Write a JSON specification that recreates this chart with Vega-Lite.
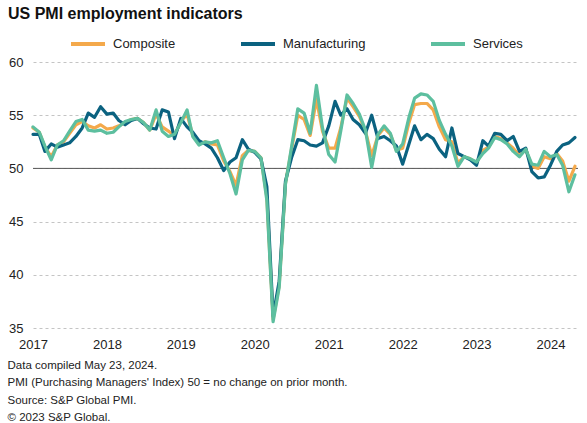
{
  "$schema": "https://vega.github.io/schema/vega-lite/v6.json",
  "width": 545,
  "height": 266,
  "autosize": {"type": "none"},
  "padding": {"left": 33, "top": 62, "right": 9, "bottom": 95},
  "background": "white",
  "config": {
    "view": {"stroke": null},
    "font": "Liberation Sans",
    "axis": {"labelColor": "#222", "labelFont": "Liberation Sans"},
    "legend": {"labelColor": "#222"}
  },
  "title": {
    "text": "US PMI employment indicators",
    "anchor": "start",
    "frame": "group",
    "dx": -25,
    "offset": 3,
    "fontSize": 16,
    "fontWeight": "bold",
    "color": "#111",
    "font": "Liberation Sans"
  },
  "layer": [
    {
      "data": {"values": [{"level": 50}]},
      "mark": {"type": "rule", "color": "#555", "strokeWidth": 1},
      "encoding": {"y": {"field": "level", "type": "quantitative"}}
    },
    {
      "data": {
        "values": [
          {"date": "2017-01-01", "Composite": 53.8, "Manufacturing": 53.2, "Services": 53.9},
          {"date": "2017-02-01", "Composite": 53.4, "Manufacturing": 53.2, "Services": 53.4},
          {"date": "2017-03-01", "Composite": 52.0, "Manufacturing": 51.6, "Services": 52.1},
          {"date": "2017-04-01", "Composite": 51.1, "Manufacturing": 52.3, "Services": 50.8},
          {"date": "2017-05-01", "Composite": 52.2, "Manufacturing": 52.0, "Services": 52.2},
          {"date": "2017-06-01", "Composite": 52.5, "Manufacturing": 52.2, "Services": 52.6},
          {"date": "2017-07-01", "Composite": 53.3, "Manufacturing": 52.4, "Services": 53.5},
          {"date": "2017-08-01", "Composite": 54.1, "Manufacturing": 53.0, "Services": 54.4},
          {"date": "2017-09-01", "Composite": 54.4, "Manufacturing": 53.8, "Services": 54.6},
          {"date": "2017-10-01", "Composite": 54.0, "Manufacturing": 55.2, "Services": 53.6},
          {"date": "2017-11-01", "Composite": 53.8, "Manufacturing": 54.8, "Services": 53.5},
          {"date": "2017-12-01", "Composite": 54.1, "Manufacturing": 55.8, "Services": 53.6},
          {"date": "2018-01-01", "Composite": 53.7, "Manufacturing": 55.1, "Services": 53.3},
          {"date": "2018-02-01", "Composite": 53.8, "Manufacturing": 55.2, "Services": 53.4},
          {"date": "2018-03-01", "Composite": 54.0, "Manufacturing": 54.5, "Services": 53.9},
          {"date": "2018-04-01", "Composite": 54.3, "Manufacturing": 54.1, "Services": 54.4},
          {"date": "2018-05-01", "Composite": 54.6, "Manufacturing": 54.5, "Services": 54.6},
          {"date": "2018-06-01", "Composite": 54.7, "Manufacturing": 54.7, "Services": 54.7},
          {"date": "2018-07-01", "Composite": 54.3, "Manufacturing": 54.2, "Services": 54.3},
          {"date": "2018-08-01", "Composite": 53.6, "Manufacturing": 53.8, "Services": 53.6},
          {"date": "2018-09-01", "Composite": 55.1, "Manufacturing": 53.7, "Services": 55.5},
          {"date": "2018-10-01", "Composite": 53.9, "Manufacturing": 55.5, "Services": 53.5},
          {"date": "2018-11-01", "Composite": 53.5, "Manufacturing": 55.3, "Services": 53.0},
          {"date": "2018-12-01", "Composite": 53.1, "Manufacturing": 52.8, "Services": 53.2},
          {"date": "2019-01-01", "Composite": 54.4, "Manufacturing": 54.7, "Services": 54.3},
          {"date": "2019-02-01", "Composite": 55.1, "Manufacturing": 53.9, "Services": 55.5},
          {"date": "2019-03-01", "Composite": 53.1, "Manufacturing": 53.4, "Services": 53.0},
          {"date": "2019-04-01", "Composite": 52.3, "Manufacturing": 52.6, "Services": 52.2},
          {"date": "2019-05-01", "Composite": 52.5, "Manufacturing": 52.3, "Services": 52.5},
          {"date": "2019-06-01", "Composite": 52.3, "Manufacturing": 51.9, "Services": 52.4},
          {"date": "2019-07-01", "Composite": 52.2, "Manufacturing": 51.0, "Services": 52.6},
          {"date": "2019-08-01", "Composite": 50.7, "Manufacturing": 49.8, "Services": 51.0},
          {"date": "2019-09-01", "Composite": 49.7, "Manufacturing": 50.6, "Services": 49.5},
          {"date": "2019-10-01", "Composite": 48.4, "Manufacturing": 51.0, "Services": 47.6},
          {"date": "2019-11-01", "Composite": 51.2, "Manufacturing": 52.7, "Services": 50.8},
          {"date": "2019-12-01", "Composite": 51.7, "Manufacturing": 51.8, "Services": 51.7},
          {"date": "2020-01-01", "Composite": 51.6, "Manufacturing": 51.5, "Services": 51.6},
          {"date": "2020-02-01", "Composite": 51.0, "Manufacturing": 50.9, "Services": 51.0},
          {"date": "2020-03-01", "Composite": 47.3, "Manufacturing": 48.3, "Services": 47.0},
          {"date": "2020-04-01", "Composite": 35.8, "Manufacturing": 36.1, "Services": 35.6},
          {"date": "2020-05-01", "Composite": 39.0, "Manufacturing": 39.4, "Services": 38.8},
          {"date": "2020-06-01", "Composite": 48.6, "Manufacturing": 48.8, "Services": 48.5},
          {"date": "2020-07-01", "Composite": 51.8, "Manufacturing": 51.0, "Services": 52.0},
          {"date": "2020-08-01", "Composite": 55.0, "Manufacturing": 52.7, "Services": 55.6},
          {"date": "2020-09-01", "Composite": 54.6, "Manufacturing": 52.6, "Services": 55.2},
          {"date": "2020-10-01", "Composite": 53.1, "Manufacturing": 52.2, "Services": 53.3},
          {"date": "2020-11-01", "Composite": 56.5, "Manufacturing": 52.1, "Services": 57.8},
          {"date": "2020-12-01", "Composite": 53.5, "Manufacturing": 52.4, "Services": 53.8},
          {"date": "2021-01-01", "Composite": 51.9, "Manufacturing": 54.0, "Services": 51.3},
          {"date": "2021-02-01", "Composite": 51.9, "Manufacturing": 56.3, "Services": 50.6},
          {"date": "2021-03-01", "Composite": 53.8, "Manufacturing": 55.0, "Services": 53.5},
          {"date": "2021-04-01", "Composite": 56.6, "Manufacturing": 55.6, "Services": 56.9},
          {"date": "2021-05-01", "Composite": 55.8, "Manufacturing": 54.6, "Services": 56.1},
          {"date": "2021-06-01", "Composite": 54.9, "Manufacturing": 54.1, "Services": 55.1},
          {"date": "2021-07-01", "Composite": 53.5, "Manufacturing": 53.3, "Services": 53.6},
          {"date": "2021-08-01", "Composite": 51.2, "Manufacturing": 55.0, "Services": 50.1},
          {"date": "2021-09-01", "Composite": 53.1, "Manufacturing": 52.8, "Services": 53.2},
          {"date": "2021-10-01", "Composite": 53.8, "Manufacturing": 53.0, "Services": 54.0},
          {"date": "2021-11-01", "Composite": 53.2, "Manufacturing": 52.6, "Services": 53.3},
          {"date": "2021-12-01", "Composite": 51.7, "Manufacturing": 52.1, "Services": 51.6},
          {"date": "2022-01-01", "Composite": 51.9, "Manufacturing": 50.4, "Services": 52.3},
          {"date": "2022-02-01", "Composite": 54.3, "Manufacturing": 52.3, "Services": 54.8},
          {"date": "2022-03-01", "Composite": 56.0, "Manufacturing": 54.0, "Services": 56.6},
          {"date": "2022-04-01", "Composite": 56.1, "Manufacturing": 52.7, "Services": 57.0},
          {"date": "2022-05-01", "Composite": 56.1, "Manufacturing": 53.2, "Services": 56.9},
          {"date": "2022-06-01", "Composite": 55.5, "Manufacturing": 52.8, "Services": 56.3},
          {"date": "2022-07-01", "Composite": 53.9, "Manufacturing": 51.8, "Services": 54.5},
          {"date": "2022-08-01", "Composite": 52.7, "Manufacturing": 51.1, "Services": 53.2},
          {"date": "2022-09-01", "Composite": 52.5, "Manufacturing": 53.8, "Services": 52.1},
          {"date": "2022-10-01", "Composite": 50.5, "Manufacturing": 51.4, "Services": 50.2},
          {"date": "2022-11-01", "Composite": 51.1, "Manufacturing": 51.1, "Services": 51.1},
          {"date": "2022-12-01", "Composite": 50.9, "Manufacturing": 50.8, "Services": 50.9},
          {"date": "2023-01-01", "Composite": 50.5, "Manufacturing": 50.3, "Services": 50.6},
          {"date": "2023-02-01", "Composite": 51.7, "Manufacturing": 52.6, "Services": 51.4},
          {"date": "2023-03-01", "Composite": 52.0, "Manufacturing": 52.1, "Services": 51.9},
          {"date": "2023-04-01", "Composite": 53.0, "Manufacturing": 53.3, "Services": 52.9},
          {"date": "2023-05-01", "Composite": 52.8, "Manufacturing": 53.2, "Services": 52.7},
          {"date": "2023-06-01", "Composite": 52.4, "Manufacturing": 52.6, "Services": 52.3},
          {"date": "2023-07-01", "Composite": 51.9, "Manufacturing": 53.0, "Services": 51.6},
          {"date": "2023-08-01", "Composite": 51.2, "Manufacturing": 51.6, "Services": 51.1},
          {"date": "2023-09-01", "Composite": 51.8, "Manufacturing": 51.9, "Services": 51.8},
          {"date": "2023-10-01", "Composite": 50.2, "Manufacturing": 49.7, "Services": 50.4},
          {"date": "2023-11-01", "Composite": 50.0, "Manufacturing": 49.1, "Services": 50.3},
          {"date": "2023-12-01", "Composite": 51.1, "Manufacturing": 49.2, "Services": 51.6},
          {"date": "2024-01-01", "Composite": 50.9, "Manufacturing": 50.3, "Services": 51.1},
          {"date": "2024-02-01", "Composite": 51.4, "Manufacturing": 51.6, "Services": 51.3},
          {"date": "2024-03-01", "Composite": 50.7, "Manufacturing": 52.2, "Services": 50.3},
          {"date": "2024-04-01", "Composite": 48.8, "Manufacturing": 52.4, "Services": 47.8},
          {"date": "2024-05-01", "Composite": 50.2, "Manufacturing": 52.9, "Services": 49.4}
        ]
      },
      "transform": [
        {"fold": ["Composite", "Manufacturing", "Services"], "as": ["series", "value"]}
      ],
      "mark": {"type": "line", "strokeWidth": 3.2, "strokeJoin": "round", "strokeCap": "round"},
      "encoding": {
        "x": {
          "field": "date",
          "type": "temporal",
          "scale": {
            "type": "utc",
            "domain": [
              {"year": 2017, "month": 1, "date": 1, "utc": true},
              {"year": 2024, "month": 5, "date": 16, "utc": true}
            ]
          },
          "axis": {
            "values": [
              {"year": 2017, "month": 1, "date": 1, "utc": true},
              {"year": 2018, "month": 1, "date": 1, "utc": true},
              {"year": 2019, "month": 1, "date": 1, "utc": true},
              {"year": 2020, "month": 1, "date": 1, "utc": true},
              {"year": 2021, "month": 1, "date": 1, "utc": true},
              {"year": 2022, "month": 1, "date": 1, "utc": true},
              {"year": 2023, "month": 1, "date": 1, "utc": true},
              {"year": 2024, "month": 1, "date": 1, "utc": true}
            ],
            "format": "%Y",
            "grid": false,
            "domain": false,
            "ticks": false,
            "tickSize": 0,
            "labelFontSize": 13,
            "labelPadding": 10,
            "labelFlush": false,
            "labelOverlap": false,
            "title": [
              "Data compiled May 23, 2024.",
              "PMI (Purchasing Managers' Index) 50 =  no change on prior month.",
              "Source: S&P Global PMI.",
              "© 2023 S&P Global."
            ],
            "titleFont": "Liberation Sans",
            "titleFontSize": 11.5,
            "titleFontWeight": "normal",
            "titleColor": "#222",
            "titleAnchor": "start",
            "titleAlign": "left",
            "titleBaseline": "alphabetic",
            "titleLineHeight": 17.5,
            "titleX": -26,
            "titleY": 40
          }
        },
        "y": {
          "field": "value",
          "type": "quantitative",
          "scale": {"domain": [35, 60], "zero": false, "nice": false},
          "axis": {
            "values": [35, 40, 45, 50, 55, 60],
            "grid": true,
            "gridDash": [3, 3],
            "gridColor": "#c4c4c4",
            "gridWidth": 1,
            "domain": false,
            "ticks": false,
            "tickSize": 0,
            "labelFontSize": 13,
            "labelPadding": 10,
            "title": null
          }
        },
        "color": {
          "field": "series",
          "type": "nominal",
          "scale": {
            "domain": ["Composite", "Manufacturing", "Services"],
            "range": ["#F4A94B", "#0B6280", "#5DBF9F"]
          },
          "legend": {
            "orient": "none",
            "legendX": 36,
            "legendY": -37,
            "direction": "horizontal",
            "title": null,
            "symbolType": "stroke",
            "symbolSize": 1156,
            "symbolStrokeWidth": 4,
            "labelFontSize": 13,
            "labelOffset": 6,
            "columnPadding": 57,
            "padding": 0
          }
        }
      }
    }
  ]
}
